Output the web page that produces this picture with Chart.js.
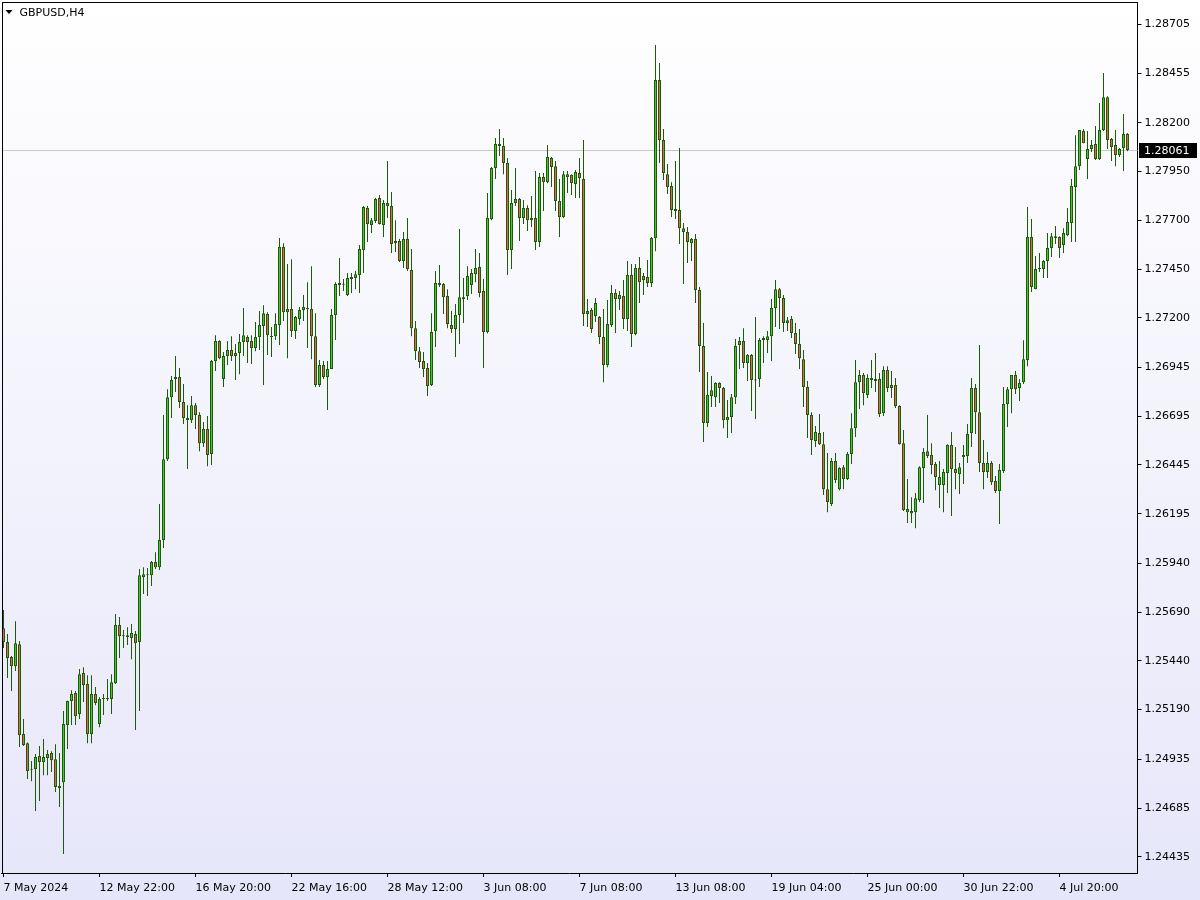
<!DOCTYPE html>
<html>
<head>
<meta charset="utf-8">
<script src="https://cdn.jsdelivr.net/npm/chart.js@4.4.1/dist/chart.umd.min.js"></script>
<style>
  html, body { margin: 0; padding: 0; background: #ffffff; }
  #wrap { width: 1200px; height: 900px; }
</style>
</head>
<body>
<div id="wrap"><canvas id="chart" width="1200" height="900"></canvas></div>
<script>
// GBPUSD H4 candles
const symbolName = 'GBPUSD,H4';

const opens = [
  1.25608,1.25537,1.25460,1.25413,1.25526,1.25065,1.25018,1.24882,1.24885,1.24952,1.24921,1.24942,
  1.24967,1.24936,1.24788,1.24818,1.25111,1.25234,1.25275,1.25167,1.25378,1.25321,1.25065,1.25270,
  1.25116,1.25244,1.25246,1.25244,1.25326,1.25624,1.25572,1.25572,1.25557,1.25578,1.25537,1.25870,
  1.25885,1.25880,1.25947,1.25921,1.26060,1.26475,1.26793,1.26886,1.26896,1.26768,1.26686,1.26675,
  1.26752,1.26701,1.26557,1.26629,1.26501,1.26978,1.27081,1.26886,1.27004,1.27035,1.27004,1.27019,
  1.27076,1.27101,1.27081,1.27045,1.27101,1.27158,1.27219,1.27106,1.27106,1.27163,1.27563,1.27229,
  1.27245,1.27132,1.27194,1.27240,1.27250,1.27245,1.27106,1.26855,1.26958,1.26896,1.26937,1.27214,
  1.27368,1.27370,1.27317,1.27399,1.27404,1.27419,1.27548,1.27763,1.27676,1.27696,1.27814,1.27676,
  1.27789,1.27773,1.27583,1.27594,1.27491,1.27604,1.27445,1.27147,1.27029,1.26978,1.26942,1.26855,
  1.27132,1.27378,1.27373,1.27312,1.27163,1.27142,1.27214,1.27296,1.27312,1.27368,1.27424,1.27460,
  1.27337,1.27127,1.27707,1.27968,1.28091,1.28081,1.27994,1.27548,1.27789,1.27809,1.27712,1.27763,
  1.27701,1.27712,1.27589,1.27922,1.27896,1.28020,1.27978,1.27799,1.27717,1.27937,1.27932,1.27886,
  1.27943,1.27912,1.27219,1.27240,1.27209,1.27204,1.27101,1.26958,1.27163,1.27327,1.27296,1.27312,
  1.27194,1.27419,1.27117,1.27455,1.27394,1.27409,1.27378,1.27609,1.28420,1.28112,1.27937,1.27876,
  1.27758,1.27753,1.27660,1.27640,1.27583,1.27604,1.27342,1.27055,1.26660,1.26799,1.26793,1.26865,
  1.26840,1.26675,1.26691,1.26793,1.27060,1.27081,1.26968,1.27009,1.26881,1.26886,1.27086,1.27086,
  1.27106,1.27250,1.27347,1.27301,1.27173,1.27194,1.27122,1.27065,1.26988,1.26845,1.26701,1.26568,
  1.26609,1.26552,1.26321,1.26245,1.26465,1.26321,1.26434,1.26373,1.26501,1.26634,1.26870,1.26906,
  1.26804,1.26881,1.26886,1.26886,1.26711,1.26932,1.26840,1.26855,1.26747,1.26557,1.26203,1.26198,
  1.26203,1.26265,1.26429,1.26516,1.26496,1.26450,1.26342,1.26342,1.26404,1.26547,1.26424,1.26398,
  1.26486,1.26491,1.26609,1.26840,1.26716,1.26455,1.26409,1.26455,1.26363,1.26311,1.26414,1.26758,
  1.26834,1.26906,1.26840,1.26870,1.26983,1.27614,1.27347,1.27450,1.27450,1.27491,1.27558,1.27609,
  1.27614,1.27573,1.27624,1.27686,1.27871,1.27978,1.28158,1.28014,1.28066,1.28091,1.28014,1.28163,
  1.28332,1.28117,1.28086,1.28035,1.28071,1.28143
];
const highs = [
  1.25701,1.25578,1.25465,1.25644,1.25542,1.25142,1.25021,1.24926,1.24962,1.25003,1.25039,1.24983,
  1.24977,1.25013,1.24967,1.25183,1.25236,1.25290,1.25285,1.25398,1.25408,1.25367,1.25367,1.25306,
  1.25254,1.25270,1.25347,1.25372,1.25680,1.25665,1.25598,1.25613,1.25629,1.25593,1.25911,1.25921,
  1.25916,1.25952,1.25998,1.26245,1.26701,1.26834,1.26901,1.27004,1.26942,1.26860,1.26752,1.26799,
  1.26763,1.26716,1.26665,1.26696,1.26983,1.27111,1.27085,1.27024,1.27081,1.27106,1.27065,1.27117,
  1.27250,1.27111,1.27111,1.27178,1.27235,1.27265,1.27229,1.27153,1.27224,1.27609,1.27583,1.27476,
  1.27501,1.27209,1.27255,1.27317,1.27383,1.27465,1.27224,1.26983,1.26978,1.26978,1.27245,1.27383,
  1.27507,1.27399,1.27430,1.27430,1.27440,1.27573,1.27773,1.27773,1.27712,1.27814,1.27830,1.27804,
  1.28004,1.27845,1.27701,1.27604,1.27640,1.27712,1.27553,1.27183,1.27050,1.27024,1.26968,1.27224,
  1.27440,1.27471,1.27378,1.27347,1.27235,1.27271,1.27655,1.27404,1.27465,1.27450,1.27553,1.27532,
  1.27399,1.27840,1.27973,1.28122,1.28168,1.28122,1.28020,1.27855,1.27968,1.27814,1.27804,1.27778,
  1.27825,1.27953,1.27943,1.27943,1.28086,1.28025,1.28004,1.27912,1.27953,1.27953,1.27937,1.27958,
  1.28020,1.28112,1.27296,1.27250,1.27301,1.27209,1.27245,1.27291,1.27368,1.27347,1.27337,1.27394,
  1.27491,1.27476,1.27476,1.27512,1.27430,1.27496,1.27614,1.28599,1.28507,1.28168,1.27989,1.27896,
  1.28004,1.28071,1.27686,1.27666,1.27609,1.27630,1.27358,1.27173,1.26922,1.26901,1.26870,1.26870,
  1.26845,1.26778,1.26809,1.27091,1.27101,1.27147,1.27014,1.27014,1.27204,1.27096,1.27106,1.27132,
  1.27296,1.27394,1.27353,1.27317,1.27204,1.27209,1.27173,1.27142,1.27035,1.26876,1.26716,1.26645,
  1.26706,1.26614,1.26506,1.26481,1.26506,1.26434,1.26445,1.26511,1.26711,1.26983,1.26932,1.26917,
  1.26911,1.26983,1.27019,1.26917,1.26952,1.26952,1.26927,1.26891,1.26752,1.26624,1.26373,1.26280,
  1.26301,1.26439,1.26532,1.26701,1.26557,1.26460,1.26465,1.26424,1.26552,1.26614,1.26537,1.26455,
  1.26547,1.26655,1.26891,1.26860,1.27060,1.26573,1.26511,1.26465,1.26388,1.26450,1.26845,1.26845,
  1.26906,1.26927,1.26886,1.27085,1.27768,1.27707,1.27517,1.27532,1.27496,1.27635,1.27635,1.27671,
  1.27619,1.27660,1.27763,1.27912,1.28137,1.28163,1.28168,1.28158,1.28112,1.28184,1.28302,1.28456,
  1.28337,1.28122,1.28163,1.28071,1.28245,1.28148
];
const lows = [
  1.25506,1.25352,1.25285,1.25388,1.24998,1.25003,1.24834,1.24823,1.24670,1.24721,1.24854,1.24854,
  1.24870,1.24767,1.24690,1.24449,1.24988,1.25111,1.25111,1.25142,1.25229,1.25018,1.25018,1.25213,
  1.25100,1.25162,1.25234,1.25167,1.25321,1.25455,1.25506,1.25521,1.25449,1.25085,1.25183,1.25783,
  1.25773,1.25824,1.25911,1.25906,1.26019,1.26465,1.26686,1.26819,1.26737,1.26655,1.26424,1.26660,
  1.26629,1.26516,1.26537,1.26439,1.26445,1.26927,1.26988,1.26845,1.26958,1.26978,1.26881,1.26911,
  1.27004,1.26968,1.26963,1.27029,1.27035,1.26855,1.27009,1.26999,1.27086,1.27060,1.27183,1.26993,
  1.27101,1.27091,1.27163,1.27183,1.27045,1.26988,1.26845,1.26845,1.26886,1.26727,1.26937,1.27086,
  1.27312,1.27337,1.27312,1.27327,1.27347,1.27327,1.27430,1.27589,1.27635,1.27686,1.27678,1.27614,
  1.27712,1.27532,1.27537,1.27486,1.27455,1.27440,1.27106,1.26983,1.26942,1.26896,1.26799,1.26850,
  1.27050,1.27358,1.27219,1.27147,1.27122,1.26999,1.27065,1.27173,1.27291,1.27322,1.27383,1.27306,
  1.26942,1.27120,1.27700,1.27912,1.28030,1.27937,1.27419,1.27450,1.27773,1.27594,1.27681,1.27645,
  1.27666,1.27548,1.27563,1.27748,1.27890,1.27871,1.27748,1.27614,1.27712,1.27840,1.27830,1.27814,
  1.27814,1.27158,1.27153,1.27122,1.27178,1.27065,1.26870,1.26947,1.27153,1.27122,1.27240,1.27142,
  1.27132,1.27050,1.27111,1.27276,1.27317,1.27358,1.27358,1.27542,1.27994,1.27907,1.27835,1.27717,
  1.27707,1.27578,1.27373,1.27481,1.27491,1.27276,1.26922,1.26563,1.26640,1.26742,1.26742,1.26763,
  1.26634,1.26583,1.26609,1.26758,1.26937,1.26942,1.26876,1.26722,1.26681,1.26845,1.26968,1.27019,
  1.26978,1.27153,1.27142,1.27127,1.27132,1.27096,1.27014,1.26937,1.26742,1.26583,1.26496,1.26537,
  1.26547,1.26291,1.26203,1.26234,1.26352,1.26316,1.26321,1.26368,1.26450,1.26588,1.26732,1.26752,
  1.26788,1.26840,1.26819,1.26691,1.26696,1.26819,1.26788,1.26737,1.26550,1.26209,1.26147,1.26147,
  1.26121,1.26255,1.26250,1.26481,1.26398,1.26316,1.26224,1.26203,1.26301,1.26183,1.26321,1.26296,
  1.26347,1.26455,1.26537,1.26604,1.26409,1.26321,1.26378,1.26342,1.26301,1.26142,1.26404,1.26640,
  1.26711,1.26809,1.26773,1.26860,1.26952,1.27332,1.27347,1.27435,1.27404,1.27404,1.27512,1.27578,
  1.27507,1.27532,1.27619,1.27589,1.27589,1.27958,1.28096,1.27912,1.28050,1.28009,1.28009,1.28158,
  1.28066,1.28004,1.27978,1.28025,1.27953,1.28055
];
const closes = [
  1.25537,1.25455,1.25413,1.25531,1.25059,1.25008,1.24875,1.24885,1.24947,1.24921,1.24947,1.24962,
  1.24931,1.24793,1.24798,1.25116,1.25234,1.25270,1.25157,1.25372,1.25316,1.25065,1.25270,1.25224,
  1.25244,1.25249,1.25244,1.25331,1.25624,1.25567,1.25567,1.25562,1.25583,1.25531,1.25880,1.25885,
  1.25880,1.25947,1.25921,1.26060,1.26475,1.26793,1.26881,1.26896,1.26768,1.26686,1.26675,1.26752,
  1.26701,1.26557,1.26629,1.26496,1.26978,1.27081,1.26993,1.27004,1.27035,1.27004,1.27019,1.27076,
  1.27111,1.27076,1.27045,1.27101,1.27163,1.27224,1.27111,1.27101,1.27168,1.27563,1.27229,1.27245,
  1.27132,1.27204,1.27240,1.27255,1.27245,1.27106,1.26855,1.26958,1.26896,1.26937,1.27214,1.27373,
  1.27378,1.27373,1.27404,1.27409,1.27424,1.27553,1.27768,1.27681,1.27701,1.27809,1.27681,1.27789,
  1.27773,1.27578,1.27594,1.27491,1.27604,1.27450,1.27147,1.27029,1.26973,1.26937,1.26850,1.27127,
  1.27378,1.27368,1.27306,1.27168,1.27142,1.27214,1.27306,1.27306,1.27414,1.27430,1.27455,1.27327,
  1.27127,1.27712,1.27968,1.28091,1.28081,1.27994,1.27548,1.27789,1.27809,1.27712,1.27763,1.27701,
  1.27712,1.27589,1.27922,1.27896,1.28025,1.27973,1.27799,1.27717,1.27937,1.27922,1.27891,1.27948,
  1.27917,1.27219,1.27235,1.27142,1.27276,1.27101,1.26958,1.27168,1.27327,1.27296,1.27317,1.27194,
  1.27419,1.27117,1.27455,1.27383,1.27414,1.27378,1.27609,1.28420,1.28112,1.27943,1.27871,1.27753,
  1.27748,1.27660,1.27640,1.27589,1.27604,1.27342,1.27055,1.26660,1.26804,1.26829,1.26865,1.26840,
  1.26675,1.26691,1.26793,1.27055,1.27081,1.26968,1.27009,1.26881,1.26878,1.27086,1.27096,1.27106,
  1.27250,1.27347,1.27301,1.27173,1.27188,1.27122,1.27065,1.26993,1.26845,1.26701,1.26573,1.26614,
  1.26552,1.26321,1.26255,1.26465,1.26368,1.26429,1.26373,1.26501,1.26634,1.26870,1.26906,1.26814,
  1.26891,1.26891,1.26876,1.26706,1.26932,1.26840,1.26855,1.26747,1.26552,1.26214,1.26219,1.26209,
  1.26275,1.26434,1.26511,1.26491,1.26445,1.26383,1.26383,1.26409,1.26547,1.26424,1.26404,1.26434,
  1.26496,1.26604,1.26840,1.26716,1.26455,1.26409,1.26455,1.26357,1.26311,1.26419,1.26758,1.26834,
  1.26906,1.26834,1.26865,1.26988,1.27614,1.27358,1.27450,1.27455,1.27491,1.27558,1.27619,1.27619,
  1.27558,1.27635,1.27691,1.27876,1.27978,1.28163,1.28096,1.28066,1.28086,1.28014,1.28163,1.28332,
  1.28112,1.28076,1.28035,1.28066,1.28143,1.28061
];

// price scale labels on the right
const priceTicks = [1.28705, 1.28455, 1.28200, 1.27950, 1.27700, 1.27450, 1.27200, 1.26945, 1.26695,
                    1.26445, 1.26195, 1.25940, 1.25690, 1.25440, 1.25190, 1.24935, 1.24685, 1.24435];

// time scale labels and the bar they sit on
const timeLabels = ['7 May 2024', '12 May 22:00', '16 May 20:00', '22 May 16:00', '28 May 12:00', '3 Jun 08:00',
                    '7 Jun 08:00', '13 Jun 08:00', '19 Jun 04:00', '25 Jun 00:00', '30 Jun 22:00', '4 Jul 20:00'];
const timeLabelBars = [0, 24, 48, 72, 96, 120, 144, 168, 192, 216, 240, 264];

const emptyBarsRight = 2; // chart shift

const barIndex = Array.from({ length: opens.length + emptyBarsRight }, (_, i) => i);
const bodies = opens.map((o, i) => [o, closes[i]]);
const wicks = lows.map((l, i) => [l, highs[i]]);

const outline = '#1d5b0a';
const bullFill = '#45c82e';
const bearFill = '#e0674b';
const bodyFill = opens.map((o, i) => (closes[i] >= o ? bullFill : bearFill));

const uiFont = '"DejaVu Sans", "Liberation Sans", sans-serif';

// terminal look: gradient background, bid line, frame, header, price tag
const terminalBackground = {
  id: 'terminalBackground',
  beforeDraw(chart) {
    const { ctx, width, height } = chart;
    const g = ctx.createLinearGradient(0, 0, 0, height);
    g.addColorStop(0, '#ffffff');
    g.addColorStop(1, '#e6e6fa');
    ctx.save();
    ctx.fillStyle = g;
    ctx.fillRect(0, 0, width, height);
    ctx.restore();
  },
  beforeDatasetsDraw(chart) {
    const { ctx, chartArea: a, scales: { y } } = chart;
    const py = Math.round(y.getPixelForValue(closes[closes.length - 1]));
    ctx.save();
    ctx.fillStyle = '#c8c8c8';
    ctx.fillRect(a.left, py, a.right - a.left, 1);
    ctx.restore();
  },
  afterDraw(chart) {
    const { ctx, chartArea: a, scales: { y } } = chart;
    const last = closes[closes.length - 1];
    const py = Math.round(y.getPixelForValue(last));
    ctx.save();
    // frame left / top
    ctx.fillStyle = '#000000';
    ctx.fillRect(Math.round(a.left), Math.round(a.top), 1, a.bottom - a.top);
    ctx.fillRect(Math.round(a.left), Math.round(a.top), a.right - a.left, 1);
    // current price tag
    ctx.fillRect(Math.round(a.right) + 1, py - 7, 58, 15);
    ctx.fillStyle = '#ffffff';
    ctx.font = '11px ' + uiFont;
    ctx.textBaseline = 'middle';
    ctx.textAlign = 'left';
    ctx.fillText(last.toFixed(5), Math.round(a.right) + 6, py + 1);
    // header
    ctx.fillStyle = '#000000';
    ctx.beginPath();
    ctx.moveTo(a.left + 4, a.top + 8);
    ctx.lineTo(a.left + 11, a.top + 8);
    ctx.lineTo(a.left + 7.5, a.top + 12);
    ctx.closePath();
    ctx.fill();
    ctx.fillText(symbolName, a.left + 18, a.top + 11);
    ctx.restore();
  }
};

new Chart(document.getElementById('chart'), {
  type: 'bar',
  data: {
    labels: barIndex,
    datasets: [
      {
        label: 'body',
        data: bodies,
        backgroundColor: bodyFill,
        borderColor: outline,
        borderWidth: 1,
        borderSkipped: false,
        barThickness: 3,
        minBarLength: 1,
        inflateAmount: 0,
        grouped: false,
        order: 0
      },
      {
        label: 'wick',
        data: wicks,
        backgroundColor: outline,
        borderWidth: 0,
        barThickness: 1,
        inflateAmount: 0,
        grouped: false,
        order: 1
      }
    ]
  },
  options: {
    responsive: false,
    animation: false,
    layout: { padding: { left: 1.5, top: 2, right: 0, bottom: 0 } },
    plugins: {
      legend: { display: false },
      tooltip: { enabled: false },
      title: { display: false }
    },
    scales: {
      x: {
        type: 'category',
        offset: true,
        grid: { display: true, drawOnChartArea: false, drawTicks: true, tickLength: 4, color: '#000000', offset: false },
        border: { display: true, color: '#000000', width: 1 },
        ticks: {
          autoSkip: false,
          maxRotation: 0,
          minRotation: 0,
          align: 'start',
          padding: 5,
          color: '#000000',
          font: { family: uiFont, size: 11 },
          callback: (value) => {
            const k = timeLabelBars.indexOf(value);
            return k >= 0 ? timeLabels[k] : '';
          }
        },
        afterBuildTicks: (scale) => { scale.ticks = timeLabelBars.map(v => ({ value: v })); },
        afterFit: (scale) => {
          scale.height = 27;
          scale.paddingLeft = 0;
          scale.paddingRight = 0;
        }
      },
      y: {
        position: 'right',
        min: 1.24352,
        max: 1.28820,
        grid: { display: true, drawOnChartArea: false, drawTicks: true, tickLength: 4, color: '#000000' },
        border: { display: true, color: '#000000', width: 1 },
        ticks: {
          padding: 3,
          color: '#000000',
          font: { family: uiFont, size: 11 },
          callback: (value) => Number(value).toFixed(5)
        },
        afterBuildTicks: (scale) => { scale.ticks = priceTicks.map(v => ({ value: v })); },
        afterFit: (scale) => {
          scale.width = 62.5;
          scale.paddingTop = 0;
          scale.paddingBottom = 0;
        }
      }
    }
  },
  plugins: [terminalBackground]
});
</script>
</body>
</html>
